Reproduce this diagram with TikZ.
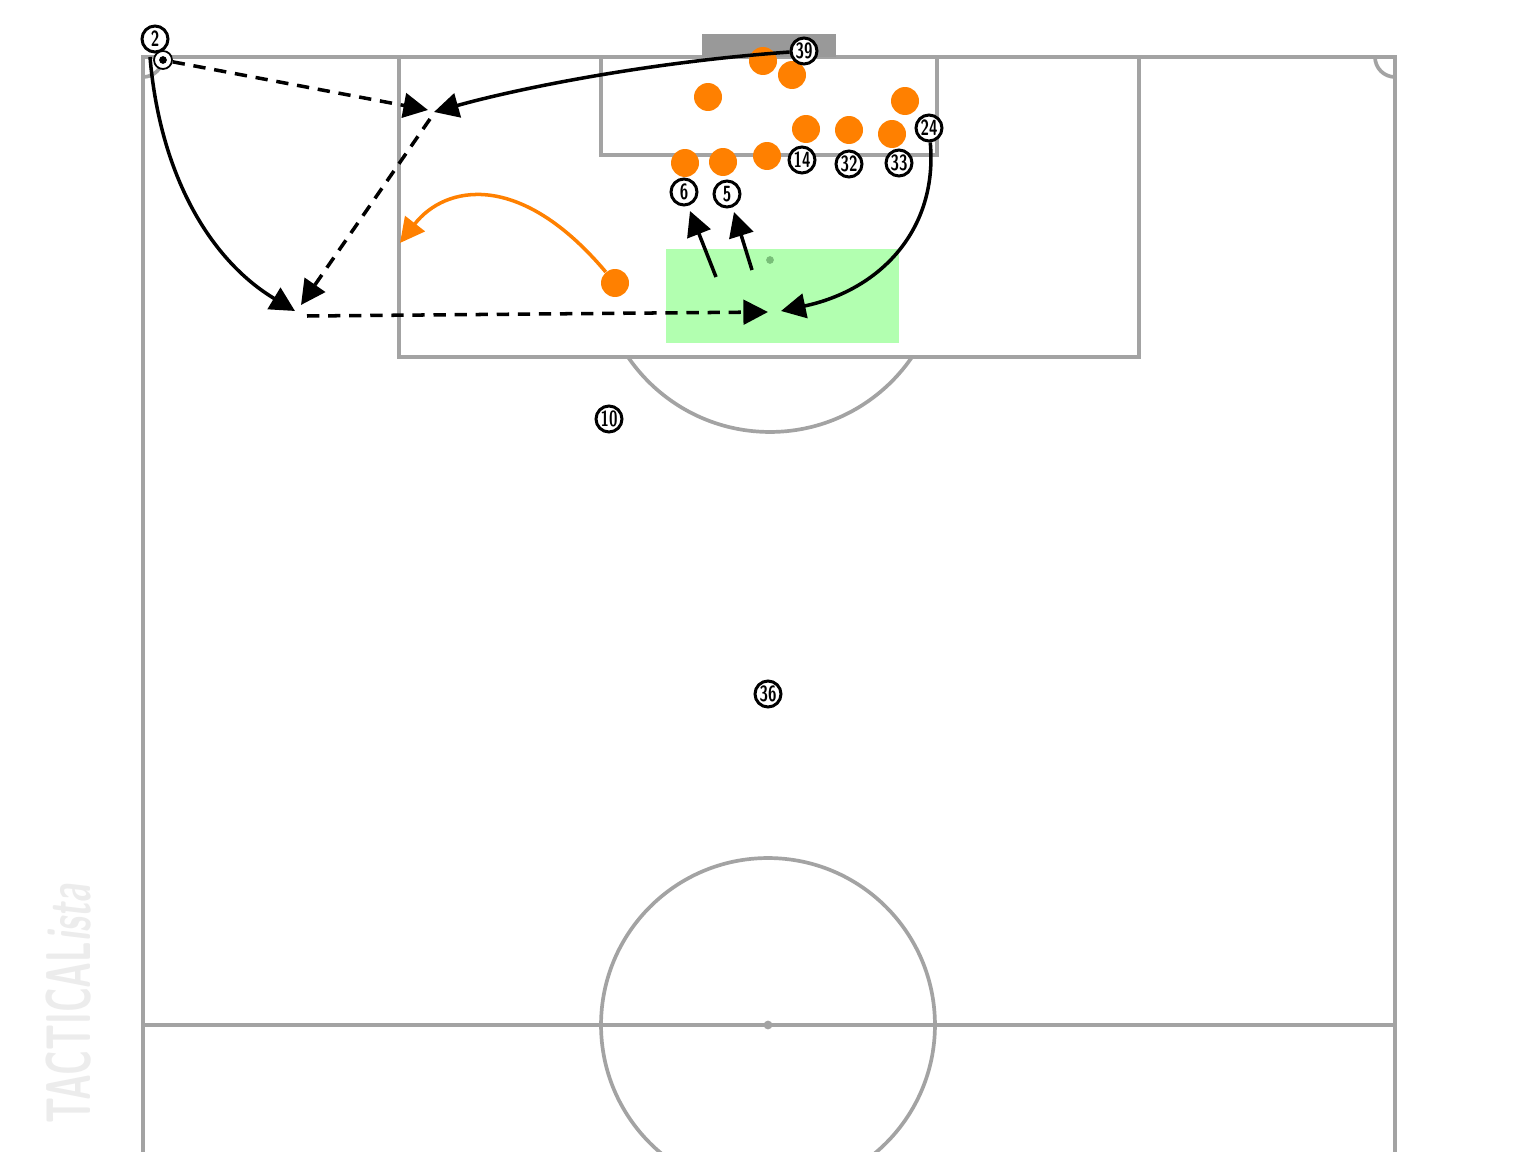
\documentclass[tikz,border=0pt]{standalone}
\usepackage{graphicx}
\usetikzlibrary{arrows.meta, positioning}
\definecolor{pitchgrey}{RGB}{163,163,163}
\definecolor{goalgrey}{RGB}{153,153,153}
\definecolor{oppo}{RGB}{255,128,0}
\definecolor{zone}{RGB}{178,255,176}
\definecolor{spotgreen}{RGB}{120,190,120}
\definecolor{brandgrey}{RGB}{236,236,236}

\tikzset{
  player/.style={circle, draw=black, line width=1.7pt, fill=white, minimum size=0.52cm,
    inner sep=0pt, font=\sffamily\bfseries\fontsize{12.5}{12.5}\selectfont},
  opponent/.style={circle, fill=oppo, minimum size=0.56cm, inner sep=0pt},
  pass/.style={draw=black, line width=2pt, dash pattern=on 7pt off 5pt,
    -{Triangle[length=14pt, width=14pt]}},
  run/.style={draw=black, line width=2pt, -{Triangle[length=14pt, width=14pt]}},
  pitchline/.style={draw=pitchgrey, line width=2.1pt},
}
\newcommand{\shirt}[1]{\scalebox{0.7}[1]{#1}}

\begin{document}
\begin{tikzpicture}[x=0.02cm, y=-0.02cm]
    \useasboundingbox (0,0) rectangle (1536,1152);
    \clip (0,0) rectangle (1536,1152);

    % watermark
    \node[rotate=90, text=brandgrey, font=\sffamily\bfseries\fontsize{36}{36}\selectfont] (brand) at (69,1003)
        {\scalebox{0.56}[1]{TACTICAL\textit{ista}}};

    % pitch
    \draw[pitchline] (143,1200) -- (143,57) -- (1395,57) -- (1395,1200);
    \draw[pitchline] (143,1025) -- (1395,1025);
    \draw[pitchline] (399,57) -- (399,357) -- (1139,357) -- (1139,57);
    \draw[pitchline] (601,57) -- (601,155) -- (937,155) -- (937,57);
    \fill[goalgrey] (702,34) rectangle (836,57);
    \begin{scope}
        \clip (0,359) rectangle (1536,500);
        \draw[pitchline] (770,260) circle[radius=3.44cm];
    \end{scope}
    \draw[pitchline] (768,1025) circle[radius=3.34cm];
    \fill[pitchgrey] (768,1025) circle[radius=2.5pt];
    \begin{scope}
        \clip (143,57) rectangle (190,100);
        \draw[pitchline] (143,57) circle[radius=0.4cm];
    \end{scope}
    \begin{scope}
        \clip (1350,57) rectangle (1395,100);
        \draw[pitchline] (1395,57) circle[radius=0.4cm];
    \end{scope}

    % target zone
    \fill[zone] (666,249) rectangle (899,343);
    \fill[spotgreen] (770,260) circle[radius=2.2pt];

    % opponents
    \node[opponent] (o1) at (763,61) {};
    \node[opponent] (o2) at (792,75) {};
    \node[opponent] (o3) at (708,97) {};
    \node[opponent] (o4) at (905,101) {};
    \node[opponent] (o5) at (806,129) {};
    \node[opponent] (o6) at (849,130) {};
    \node[opponent] (o7) at (892,134) {};
    \node[opponent] (o8) at (685,163) {};
    \node[opponent] (o9) at (723,162) {};
    \node[opponent] (o10) at (767,156) {};
    \node[opponent] (o11) at (615,283) {};

    % players
    \node[player] (p2) at (155,39) {\shirt{2}};
    \node[player] (p39) at (804,51) {\shirt{39}};
    \node[player] (p24) at (929,128) {\shirt{24}};
    \node[player] (p14) at (802,160) {\shirt{14}};
    \node[player] (p32) at (849,164) {\shirt{32}};
    \node[player] (p33) at (899,163) {\shirt{33}};
    \node[player] (p6) at (684,192) {\shirt{6}};
    \node[player] (p5) at (727,194) {\shirt{5}};
    \node[player] (p10) at (609,419) {\shirt{10}};
    \node[player] (p36) at (768,694) {\shirt{36}};

    % ball
    \node[circle, draw=black, fill=white, line width=1pt, minimum size=0.36cm, inner sep=0pt] (ball) at (163,60) {};
    \fill (ball.center) circle[radius=2.2pt];

    % end points of moves
    \coordinate (near1) at (428,110);
    \coordinate (near2) at (434,112);
    \coordinate (lay) at (430,119);
    \coordinate (back1) at (301,305);
    \coordinate (back2) at (295,311);
    \coordinate (low) at (307,316);
    \coordinate (spot1) at (768,312);
    \coordinate (spot2) at (781,311);
    \coordinate (edge) at (400,243);
    \coordinate (lift) at (150,57);
    \coordinate (s6) at (716,277);
    \coordinate (t6) at (690,211);
    \coordinate (s5) at (752,270);
    \coordinate (t5) at (734,212);

    % moves
    \draw[pass] (ball) -- (near1);
    \draw[run] (p39) .. controls (650,62) and (520,88) .. (near2);
    \draw[pass] (lay) -- (back1);
    \draw[run] (lift) .. controls (160,175) and (210,260) .. (back2);
    \draw[pass] (low) -- (spot1);
    \draw[run] (p24) .. controls (938,230) and (880,290) .. (spot2);
    \draw[draw=oppo, line width=2pt, -{Triangle[length=14pt, width=14pt]}]
        (o11) .. controls (520,170) and (445,185) .. (edge);
    \draw[run] (s6) -- (t6);
    \draw[run] (s5) -- (t5);
\end{tikzpicture}
\end{document}
